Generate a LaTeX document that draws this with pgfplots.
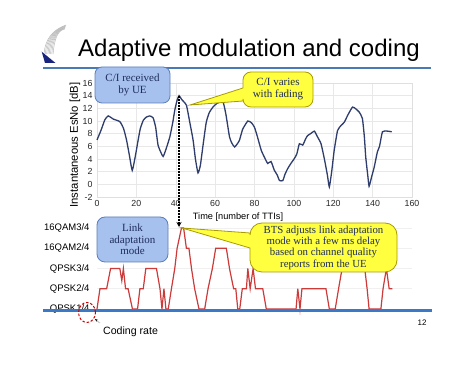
\documentclass[border=0pt]{standalone}
\usepackage{fontspec}
\setmainfont{Liberation Sans}
\newfontfamily\callfont{Liberation Serif}
\usepackage{pgfplots}
\pgfplotsset{compat=1.18}
\usetikzlibrary{arrows.meta}
\definecolor{navyc}{HTML}{2E3D6B}
\definecolor{redc}{HTML}{CC3A3A}
\definecolor{headblue}{HTML}{4A7AB5}
\definecolor{footblue}{HTML}{3A78C8}
\definecolor{logoblue}{HTML}{1A237E}
\definecolor{callY}{HTML}{FFFF40}
\definecolor{callYb}{HTML}{A89B00}
\definecolor{callB}{HTML}{A6C1EE}
\definecolor{callBb}{HTML}{5B7DB8}
\definecolor{calltext}{HTML}{1F2D5C}
\begin{document}
\begin{tikzpicture}[x=1pt,y=1pt]
\useasboundingbox (0,0) rectangle (474,366);
\fill[white] (0,0) rectangle (474,366);
% logo
\foreach \i in {0,...,7} {\draw[gray!55, line width=0.5pt] (44+\i*1.3,312) .. controls (45+\i*1.3,326) and (52+\i*0.8,336) .. (66-\i*0.2,341-\i*0.6);}
\fill[logoblue] (41.7,314.3) -- (45,303) -- (55.5,303) -- cycle;
% title
\node[anchor=base west, inner sep=0, font=\fontsize{24}{28}\selectfont] at (78,309) {Adaptive modulation and coding};
\draw[headblue, line width=1.6pt] (43,298) -- (431,298);
% top axis
\begin{axis}[
 at={(97pt,169pt)}, anchor=south west, scale only axis, width=315pt, height=114pt,
 xmin=0, xmax=160, ymin=-2, ymax=16,
 xtick={0,20,...,160}, ytick={-2,0,...,16},
 grid=major, major grid style={draw=gray!18, line width=0.5pt},
 axis line style={draw=gray!25},
 tick style={draw=none},
 ticklabel style={font=\fontsize{8.8}{10}\selectfont, text=black!85},
 yticklabel style={xshift=-1pt},
 /pgf/number format/assume math mode=true,
 clip=false,
]
\addplot[navyc, line width=1.3pt, smooth, tension=0.3] coordinates {
(0,7) (2,8.5) (4,10.2) (5.7,10.8) (8.3,10.3) (11.6,9.9) (13.5,8.8) (15,7) (16.5,4.5) (17.9,2.2) (19.5,4.5) (20.9,7) (22,8.8) (23.5,10.1) (25,10.6) (26.8,10.8) (28.5,10.5) (29.8,9) (31,6.2) (32.5,5) (33.6,4.4) (35,5.5) (37,7.5) (38.5,9.8) (39.5,11.7) (40.7,13.3) (41.7,14) (43,13.4) (45.4,12.5) (47,10) (48.8,7) (50,4) (51.3,1.8) (52.5,3) (54,6.5) (55.5,9.8) (57,11.3) (58.9,12.2) (61,12.8) (64,13.0) (65.5,11) (67.3,7.5) (68.5,6.5) (69.9,5.9) (71.5,6.5) (72.4,7) (74,8.7) (76.6,10.0) (78.5,9.7) (80,9) (81.5,7.5) (83.4,5.4) (85,4.3) (86.7,3.3) (88.4,3.6) (90.1,2.2) (91.5,1.5) (92.7,0.6) (94.4,0.6) (95.5,1.6) (96.9,2.5) (98.5,3.3) (100.3,4.1) (101.5,4.8) (102.8,6.4) (104.5,6.2) (106,7.2) (107,7.7) (108.5,8) (110.4,8.4) (112,7.5) (113.8,6.4) (115.5,4) (117,1.5) (118,-0.4) (119.2,2) (120.5,5.4) (122.2,8.5) (124,9.3) (125.6,9.8) (127.5,11) (129.8,12.2) (131.5,11.9) (133.2,11.4) (134.8,10.4) (135.8,7.5) (136.5,4.3) (137.5,1.5) (138.2,-0.3) (139.5,1.2) (140.8,2.7) (142.4,5.1) (143.5,6) (145,8.3) (147.5,8.4) (149.7,8.3)
};
\end{axis}
% bottom axis
\begin{axis}[
 at={(97pt,57pt)}, anchor=south west, scale only axis, width=315pt, height=81pt,
 xmin=0, xmax=160, ymin=0, ymax=4,
 xtick=\empty, ytick={0,...,4},
 yticklabels={QPSK1/4,QPSK2/4,QPSK3/4,16QAM2/4,16QAM3/4},
 ymajorgrids, major grid style={draw=gray!12, line width=0.5pt},
 axis line style={draw=none}, tick style={draw=none},
 yticklabel style={font=\fontsize{9.5}{11}\selectfont, xshift=-4pt},
 clip=false,
]
\addplot[redc, line width=1.2pt] coordinates {
(0,0) (1.5,1) (4.9,1) (6.9,2) (11.6,2) (12.6,1.4) (13.4,2) (14.5,1) (15.8,1) (18,0) (20.6,0) (21.8,1) (23.5,1) (24.8,2) (30.2,2) (32,1) (33,0) (34,1) (35,0) (36.2,0) (37.8,1) (39.5,2) (40.7,3) (42.9,4) (44,4) (45.4,3) (46.7,3) (48,2) (49.6,1) (51.8,0) (54.7,0) (56.4,1) (58.6,2) (60.3,3) (65.7,3) (67.3,2) (69.4,1) (70.5,1) (71.5,0) (72.5,0) (73.8,1) (75.9,1) (76.6,2) (77.8,1) (79.3,2) (80.5,1) (84.2,1) (86,0) (101.1,0) (102,1) (103.1,0) (104.1,1) (116.3,1) (118,0) (121,0) (122.7,1) (124.5,2) (126,3) (134,3) (136,2) (137.2,1) (138.2,0) (144.2,0) (145.3,1) (147,2) (148.4,1) (150,1)
};
\end{axis}
\draw[footblue, line width=3pt] (43,55.5) -- (432,55.5);
% coding rate
\draw[red!80!black, dash pattern=on 2.5pt off 1.8pt, line width=1pt] (87,53.5) ellipse (8.5 and 10);
\draw[-{Stealth[length=3pt]}, densely dotted, black] (100,43) -- (95,47);
\node[anchor=base west, inner sep=0, font=\fontsize{10.6}{12}\selectfont] at (103,31.5) {Coding rate};
\node[font=\fontsize{8}{9}\selectfont] at (422,43) {12};
% axis labels
\node[rotate=90, font=\fontsize{11.3}{12}\selectfont] at (75,221) {Instantaneous EsNo [dB]};
\node[font=\fontsize{9.2}{11}\selectfont] at (238,149) {Time [number of TTIs]};
% dotted arrow
\draw[line width=1.6pt, dash pattern=on 1.6pt off 1.4pt, -{Stealth[length=5pt,width=5pt]}] (179,270) -- (179,139);
% callout 1
\filldraw[fill=callB, draw=callBb, line width=0.8pt, rounded corners=7pt] (95,263) rectangle (170,299);
\node[align=center, text=calltext, font=\callfont\fontsize{11}{11.7}\selectfont] at (132.5,281) {C/I received\\by UE};
% callout 2
\filldraw[fill=callY, draw=callYb, line width=0.8pt] (243,278) [rounded corners=8pt] -- (243,294) -- (313,294) -- (313,259) -- (243,259) [sharp corners] -- (243,265) -- (190,261) -- cycle;
\node[align=center, text=calltext, font=\callfont\fontsize{11}{11.7}\selectfont] at (278,277) {C/I varies\\with fading};
% callout 3
\filldraw[fill=callB, draw=callBb, line width=0.8pt, rounded corners=8pt] (97,104) rectangle (168,149);
\node[align=center, text=calltext, font=\callfont\fontsize{11}{11.7}\selectfont] at (132.5,126.5) {Link\\adaptation\\mode};
% callout 4
\filldraw[fill=callY, draw=callYb, line width=0.8pt] (250,118) [rounded corners=12pt] -- (250,94) -- (397,94) -- (397,143) -- (250,143) [sharp corners] -- (250,133) -- (182,138) -- cycle;
\node[align=center, text=calltext, font=\callfont\fontsize{10.8}{11.3}\selectfont] at (323.5,118.5) {BTS adjusts link adaptation\\mode with a few ms delay\\based on channel quality\\reports from the UE};
\end{tikzpicture}
\end{document}
